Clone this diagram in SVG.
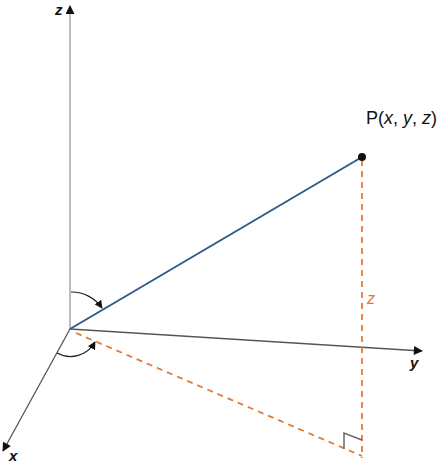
<svg xmlns="http://www.w3.org/2000/svg" width="446" height="465" viewBox="0 0 446 465">
<defs>
<style>
.axis{stroke:#555;stroke-width:1.3;fill:none}
.lbl{font-family:"Liberation Sans",Arial,sans-serif;font-style:italic;font-weight:bold;font-size:15px;fill:#111}
.dash{stroke:#e07b39;stroke-width:1.8;stroke-dasharray:6,5;fill:none}
.arc{stroke:#222;stroke-width:1.2;fill:none}
</style>
<marker id="ah2" viewBox="0 0 10 10" refX="9" refY="5" markerWidth="12" markerHeight="9" markerUnits="userSpaceOnUse" orient="auto">
<path d="M0,0 L10,5 L0,10 Z" fill="#111"/>
</marker>
<marker id="sa" viewBox="0 0 10 10" refX="9" refY="5" markerWidth="8" markerHeight="8" markerUnits="userSpaceOnUse" orient="auto">
<path d="M0,0 L10,5 L0,10 Z" fill="#111"/>
</marker>
</defs>
<g id="connectors">
<line class="axis" x1="70" y1="329" x2="70" y2="6" style="stroke:#999" marker-end="url(#ah2)"/>
<line class="axis" x1="70" y1="329" x2="422" y2="351" marker-end="url(#ah2)"/>
<line class="axis" x1="70" y1="329" x2="3" y2="451" marker-end="url(#ah2)"/>
<line x1="70" y1="329" x2="362" y2="157" stroke="#2e5b8c" stroke-width="2"/>
<line class="dash" x1="362" y1="160" x2="362" y2="458"/>
<line class="dash" x1="76" y1="333" x2="362" y2="456"/>
<polyline points="344,449 344,433 362,440" fill="none" stroke="#666" stroke-width="1.5"/>
<path class="arc" d="M71,292 A37,37 0 0 1 102,308" marker-end="url(#sa)"/>
<path class="arc" d="M57,353 A28,28 0 0 0 95,342" marker-end="url(#sa)"/>
</g>
<g id="point-P">
<circle cx="362" cy="157" r="4" fill="#111"/>
<text x="366" y="124" font-family="'Liberation Sans',Arial,sans-serif" font-size="18" fill="#111">P(<tspan font-style="italic">x</tspan>, <tspan font-style="italic">y</tspan>, <tspan font-style="italic">z</tspan>)</text>
</g>
<g id="label-z-axis"><text class="lbl" x="55" y="15">z</text></g>
<g id="label-y-axis"><text class="lbl" x="410" y="368">y</text></g>
<g id="label-x-axis"><text class="lbl" x="9" y="461">x</text></g>
<g id="label-height"><text x="367" y="304" font-family="'Liberation Sans',Arial,sans-serif" font-style="italic" font-size="16" fill="#e07b39">z</text></g>
</svg>
